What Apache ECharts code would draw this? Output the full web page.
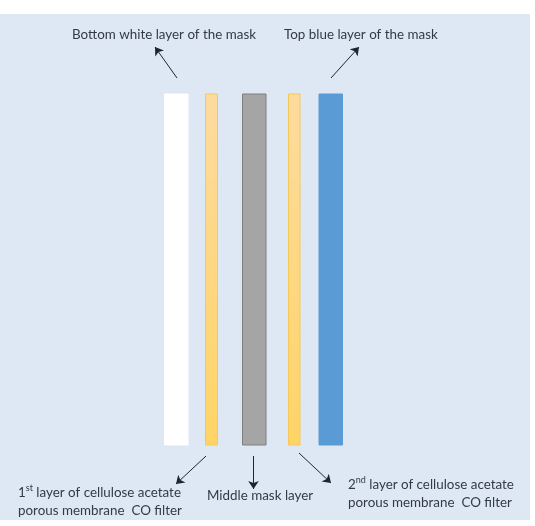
<!DOCTYPE html>
<html>
<head>
<meta charset="utf-8">
<style>html,body{margin:0;padding:0;background:#fff}#main{width:535px;height:526px}</style>
<script src="https://cdn.jsdelivr.net/npm/echarts@6/dist/echarts.min.js"></script>
</head>
<body>
<div id="main"></div>
<script>
// layers of the mask, left to right
var layerNames = ['white', 'filter1', 'middle', 'filter2', 'blue'];
var layerFrom = [164.5, 205.5, 242.5, 288.5, 319];
var layerTo = [188, 217.5, 266, 300, 342.5];
var layerTop = 94;
var layerBottom = 445;
var layerFill = ['#ffffff', 'orange', '#a5a5a5', 'orange', '#5b9bd5'];
var layerEdge = ['#ffffff', '#f4c95a', '#7f7f7f', '#f4c95a', '#5b9bd5'];

var arrowFrom = [[177, 78], [331, 78], [206, 456], [253.5, 456], [299, 453]];
var arrowTo = [[155, 47], [359, 47], [176, 484], [253.5, 489], [331, 483]];

var labelText = [
	'Bottom white layer of the mask',
	'Top blue layer of the mask',
	'1{sup|st} layer of cellulose acetate\nporous membrane  CO filter',
	'Middle mask layer',
	'2{sup|nd} layer of cellulose acetate\nporous membrane  CO filter'
];
var labelX = [72, 284, 18, 207, 348];
var labelY = [35, 35, 502, 496, 494];

var filterFill = new echarts.graphic.LinearGradient(0, 0, 0, 1, [
	{offset: 0, color: '#fddb9f'},
	{offset: 1, color: '#ffd466'}
]);

var myChart = echarts.init(document.getElementById('main'));

var barData = [];
for (var i = 0; i < layerNames.length; i++) {
	barData.push([layerFrom[i], layerTo[i], layerTop, layerBottom, i]);
}
var arrowData = [];
for (var i = 0; i < arrowFrom.length; i++) {
	arrowData.push({coords: [arrowFrom[i], arrowTo[i]]});
}
var labelData = [];
for (var i = 0; i < labelText.length; i++) {
	labelData.push([labelX[i], labelY[i], i]);
}

myChart.setOption({
	animation: false,
	grid: {
		show: true,
		left: 0,
		top: 14,
		width: 530,
		height: 506,
		borderWidth: 0,
		backgroundColor: '#dde8f4'
	},
	xAxis: {type: 'value', min: 0, max: 530, show: false},
	yAxis: {type: 'value', min: 14, max: 520, inverse: true, show: false},
	series: [
		{
			type: 'custom',
			coordinateSystem: 'cartesian2d',
			data: barData,
			renderItem: function (params, api) {
				var p0 = api.coord([api.value(0), api.value(2)]);
				var p1 = api.coord([api.value(1), api.value(3)]);
				var idx = api.value(4);
				var fill = layerFill[idx] == 'orange' ? filterFill : layerFill[idx];
				return {
					type: 'rect',
					shape: {x: p0[0], y: p0[1], width: p1[0] - p0[0], height: p1[1] - p0[1]},
					style: {fill: fill, stroke: layerEdge[idx], lineWidth: 1}
				};
			}
		},
		{
			type: 'lines',
			coordinateSystem: 'cartesian2d',
			data: arrowData,
			symbol: ['none', 'arrow'],
			symbolSize: 8,
			lineStyle: {color: '#1f2530', width: 1, opacity: 1, curveness: 0}
		},
		{
			type: 'custom',
			coordinateSystem: 'cartesian2d',
			data: labelData,
			renderItem: function (params, api) {
				var p = api.coord([api.value(0), api.value(1)]);
				return {
					type: 'text',
					x: p[0],
					y: p[1],
					style: {
						text: labelText[api.value(2)],
						font: '13.4px Lato',
						fill: '#333a45',
						lineHeight: 18,
						verticalAlign: 'middle',
						rich: {
							sup: {fontFamily: 'Lato', fontSize: 9, fill: '#333a45', verticalAlign: 'top', lineHeight: 18}
						}
					}
				};
			}
		}
	]
});
</script>
</body>
</html>
